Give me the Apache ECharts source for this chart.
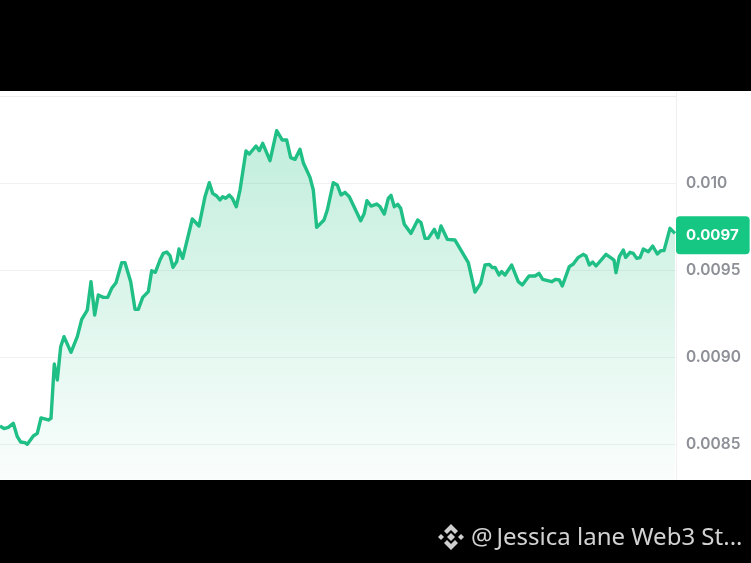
<!DOCTYPE html>
<html><head><meta charset="utf-8">
<style>html,body{margin:0;padding:0;background:#000}#c{width:751px;height:563px}</style>
<script src="https://cdn.jsdelivr.net/npm/echarts@6/dist/echarts.min.js"></script>
</head><body><div id="c"></div>
<script>
const timeSteps = [0,4,8.3,13.3,17.3,20.7,25,27.3,33.3,37.3,41,48.3,51,54.3,57.3,60.7,64,71,77.3,81.7,87.3,91,94.7,98.3,103.3,107.7,111.7,116,121.7,125,130.7,135,138.3,142.7,148.3,151.7,155.3,160,163.3,166.7,170,173,176.7,179,182.7,192.3,199,205,209.3,212.7,216.7,220,222.7,225.7,229.3,232.3,236.3,240,246,
249.3,256,259.3,262.7,270,276.7,282.3,286.7,290.7,295,300,303.3,310,313.3,316.7,324,327.3,333.3,337.3,341,345,349.3,360.7,364,367,371,376.7,380,384.3,388.3,391,394.3,397.7,400.7,404.3,411,417.7,421,425,428.3,434.3,438,441,447.3,455,468.3,475,480.7,485,
489.3,492.3,495,499,501.7,505,511.7,518.3,522.3,529,535,539,542.7,551.7,555.7,559.3,562.3,569.3,573.3,578.3,583.3,586,589.3,592.7,596,606,611.7,614,616,619.3,623.3,625.7,630,633.3,636.7,640,643.3,648.3,652.7,657.3,660.7,664,670,675];
const prices = [0.0086035,0.0085881,0.0085958,0.0086188,0.0085422,0.0085115,0.0085077,0.0084981,0.008546,0.0085613,0.0086495,0.008638,0.0086475,0.0089598,0.0088678,0.0090594,0.0091169,0.0090268,0.0091169,0.0092165,0.0092701,0.009433,0.0092414,0.0093563,0.0093429,0.0093429,0.0093947,0.0094272,0.0095422,0.0095422,0.009433,0.009274,0.009274,0.0093429,0.0093755,0.0094962,0.0094866,0.0095575,0.0095958,0.0096035,0.0095824,0.0095153,0.0095479,0.0096207,0.0095671,0.0097931,0.0097529,0.0099215,0.0100019,0.0099406,0.0099253,0.0099023,0.0099215,0.0099119,0.0099311,0.0099119,0.009864,0.0099598,0.0101839,
0.0101667,0.0102127,0.0101858,0.010228,0.0101284,0.0103008,0.0102471,0.0102471,0.0101456,0.010136,0.0101935,0.0101169,0.0100326,0.0099598,0.0097452,0.0097874,0.0098448,0.0100019,0.0099885,0.0099311,0.0099464,0.0099215,0.0097835,0.0098219,0.0098985,0.0098678,0.0098793,0.009864,0.0098219,0.0099119,0.0099291,0.009864,0.0098774,0.0098544,0.0097625,0.0097107,0.0097874,0.0097721,0.009682,0.009682,0.0097337,0.0096858,0.0097529,0.0096763,0.0096724,0.0095422,0.0093736,0.0094234,0.0095288,
0.0095326,0.0095135,0.0095154,0.0094713,0.0094905,0.0094713,0.0095288,0.009433,0.0094138,0.0094656,0.0094656,0.0094809,0.0094464,0.009433,0.0094464,0.0094426,0.0094081,0.0095192,0.0095345,0.0095728,0.0095901,0.0095805,0.0095288,0.009546,0.009523,0.0095901,0.0095671,0.0095575,0.0094847,0.0095767,0.009615,0.0095728,0.0096016,0.0095958,0.0095671,0.0095709,0.0096207,0.0096054,0.009638,0.009592,0.0096112,0.0096112,0.0097395,0.0097108];
const tickValues = [0.0085,0.009,0.0095,0.01];
const tickLabels = ['0.0085','0.0090','0.0095','0.010'];
const topRule = 0.0105;
const currentPrice = 0.0097;
const currentLabel = '0.0097';
const watermarkAt = '@';
const watermark = 'Jessica lane Web3 St...';

const chart = echarts.init(document.getElementById('c'));
const logo = (pts) => ({type:'polygon', z:5, shape:{points:pts}, style:{fill:'#cfcfcf'}});
chart.setOption({
  backgroundColor:'#000',
  animation:false,
  grid:{left:0,top:91,width:676,height:389},
  xAxis:{type:'value',min:0,max:676,show:false},
  yAxis:{type:'value',position:'right',min:0.008293,max:0.010529,
    axisLine:{show:true,onZero:false,lineStyle:{color:'#f0f0f2',width:1,cap:'butt'}},
    axisTick:{show:false,customValues:tickValues},
    splitLine:{show:true,lineStyle:{color:'#f1f1f3',width:1}},
    axisLabel:{customValues:tickValues,margin:10,color:'#8e9097',fontFamily:'Inter',fontWeight:600,fontSize:15.5,padding:[2,0,0,0],
      formatter:v=>tickLabels[tickValues.findIndex(t=>Math.abs(t-v)<1e-6)]}
  },
  graphic:[
    {type:'rect',z:-10,silent:true,shape:{x:0,y:91,width:751,height:389},style:{fill:'#fff'}},
    {type:'text',z:5,x:471,y:538,style:{text:watermarkAt,fill:'#d2d2d2',font:'24px "Noto Sans"',verticalAlign:'middle',textAlign:'left'}},
    {type:'text',z:5,x:496.5,y:538,style:{text:watermark,fill:'#d2d2d2',font:'24px "Noto Sans"',verticalAlign:'middle',textAlign:'left'}},
    logo([[451,524],[458,531],[455,534],[451,530],[447,534],[444,531]]),
    logo([[451,550],[458,543],[455,540],[451,544],[447,540],[444,543]]),
    logo([[451,533],[455,537],[451,541],[447,537]]),
    logo([[441,534],[444,537],[441,540],[438,537]]),
    logo([[461,534],[464,537],[461,540],[458,537]])
  ],
  series:[{
    type:'line',symbol:'none',smooth:false,z:3,
    data:timeSteps.map((t,i)=>[t,prices[i]]),
    lineStyle:{color:'#20bf86',width:3.4,join:'round'},
    areaStyle:{origin:'start',color:new echarts.graphic.LinearGradient(0,0,0,1,[
      {offset:0,color:'rgba(22,190,125,0.38)'},{offset:1,color:'rgba(22,190,125,0.03)'}])},
    markLine:{silent:true,symbol:'none',animation:false,precision:7,
      data:[
        {yAxis:topRule,label:{show:false},lineStyle:{color:'#eeeef0',width:1,type:'solid'}},
        {yAxis:currentPrice,lineStyle:{color:'rgba(0,0,0,0)',width:0},label:{show:true,position:'end',distance:0,formatter:currentLabel,
          color:'#fff',fontFamily:'Inter',fontWeight:700,fontSize:15,
          backgroundColor:'#16c784',borderRadius:4,padding:[12,11,11,10]}}
      ]}
  }]
});
</script></body></html>
